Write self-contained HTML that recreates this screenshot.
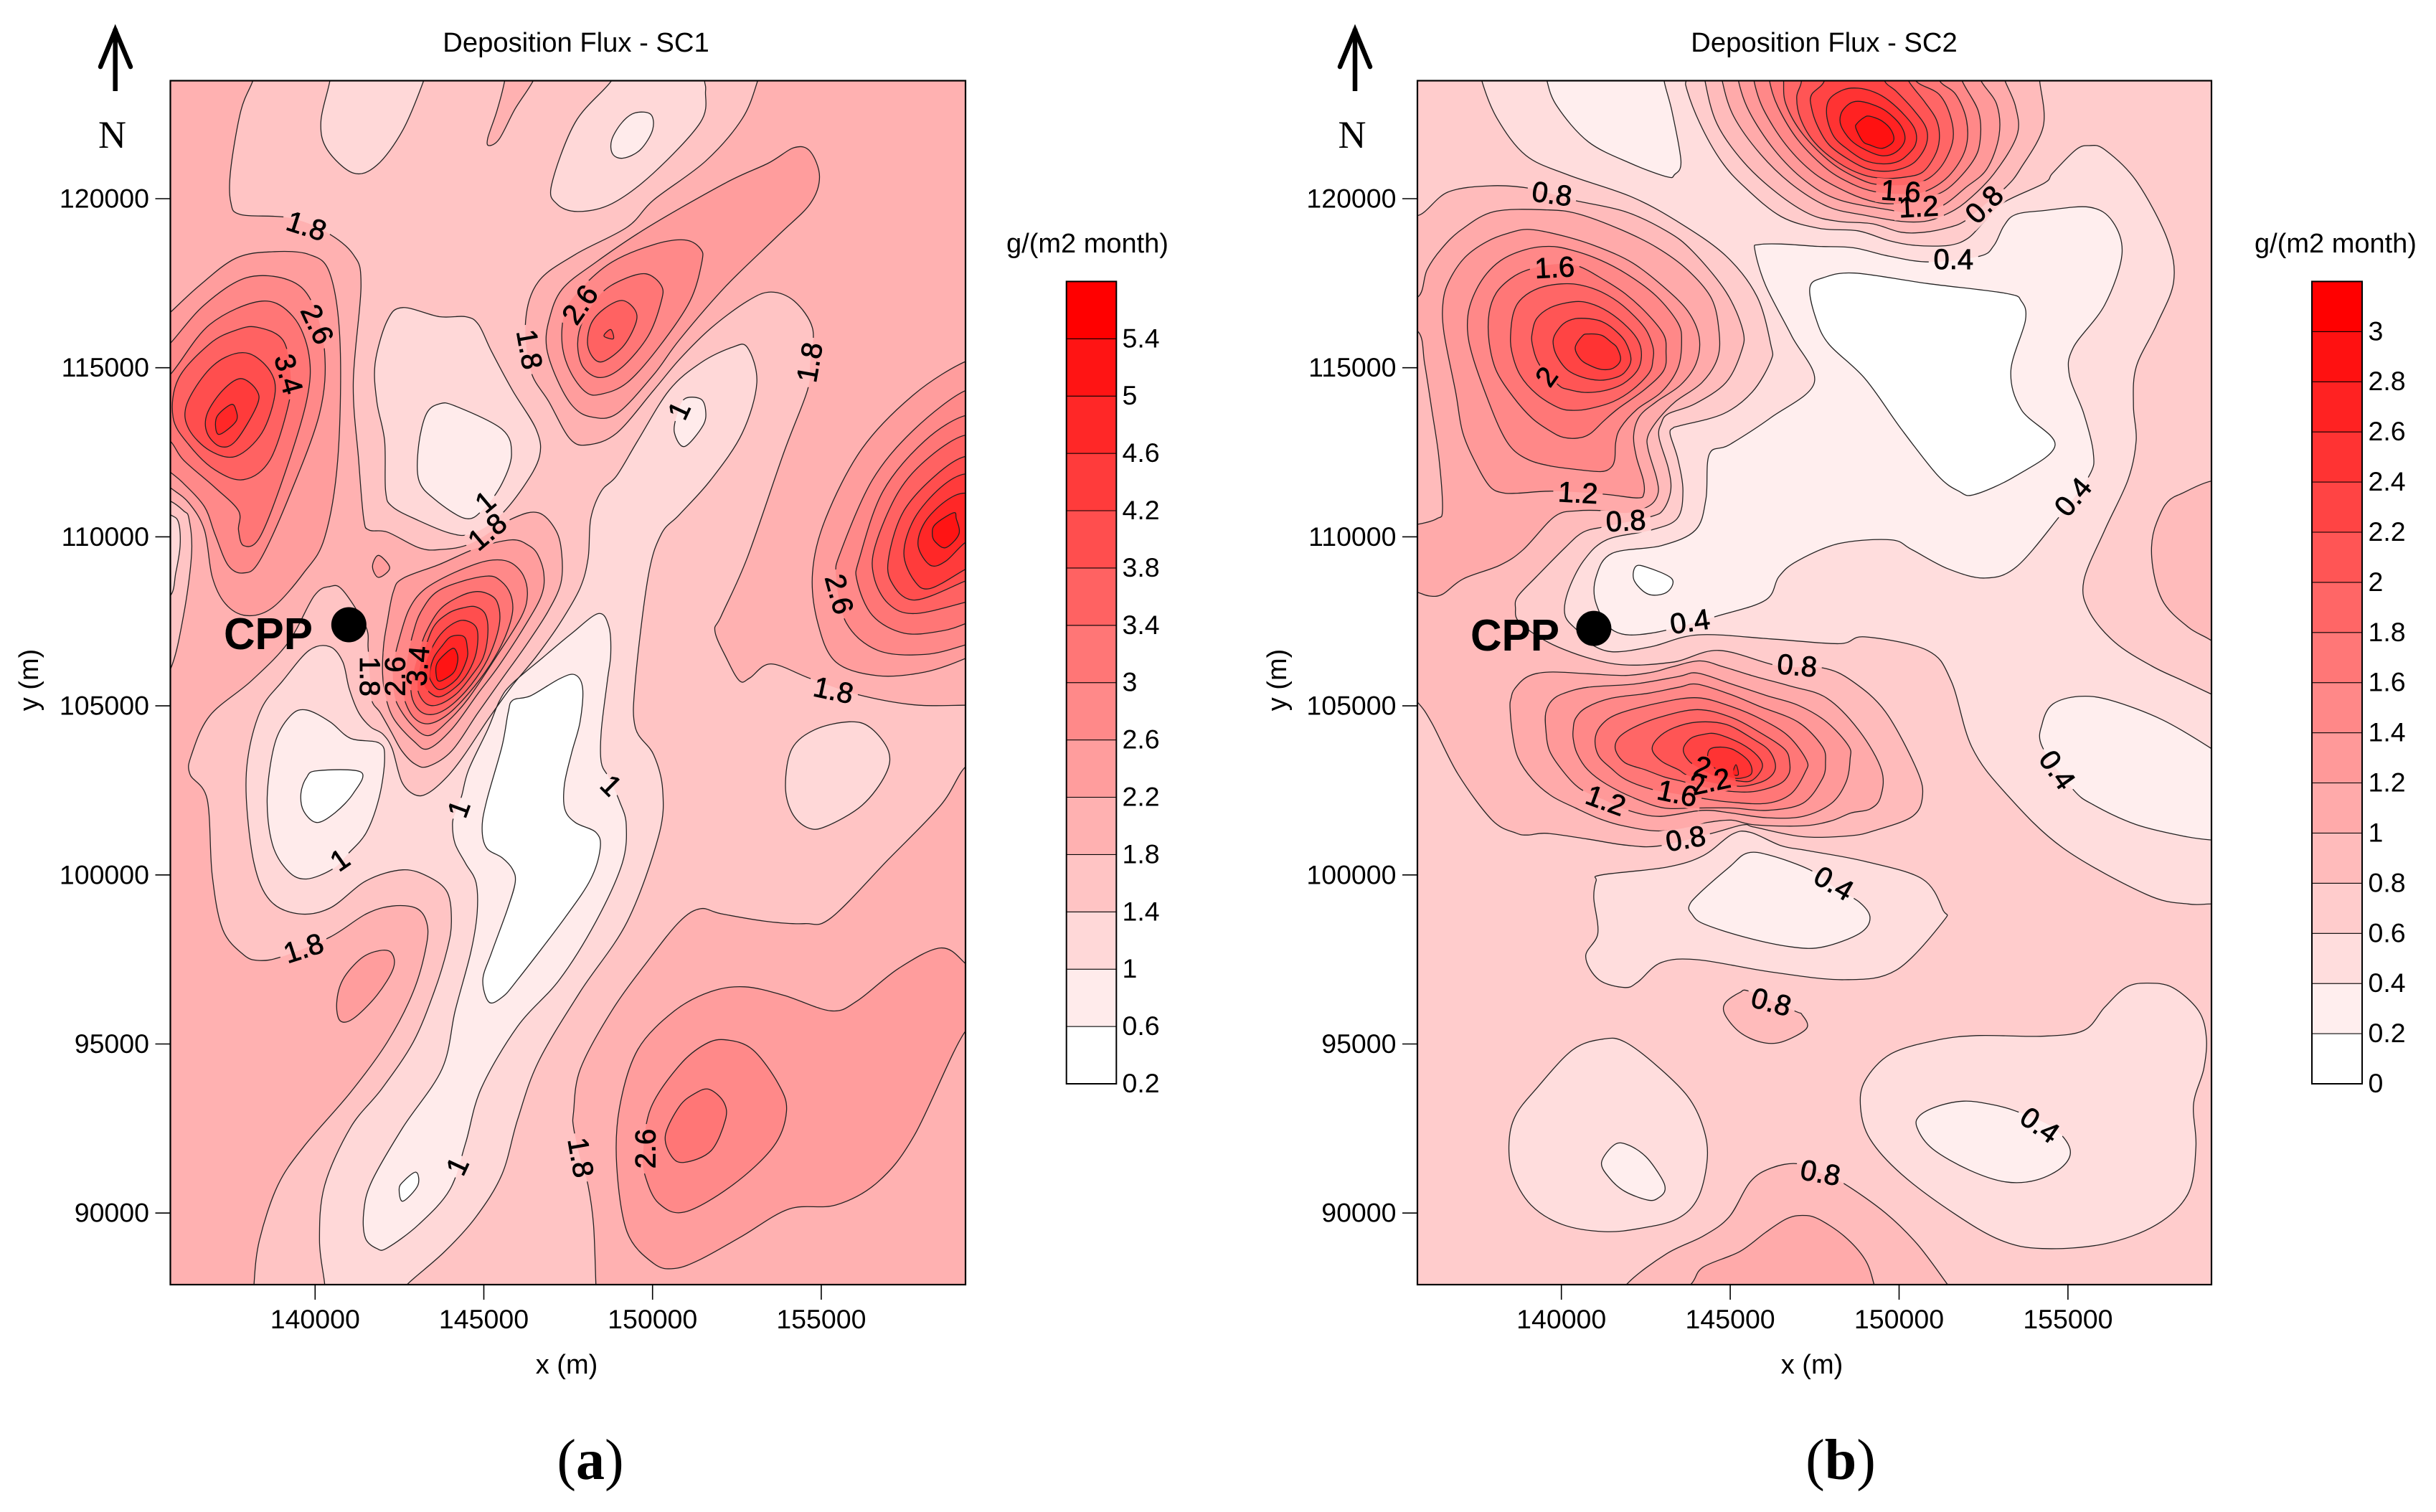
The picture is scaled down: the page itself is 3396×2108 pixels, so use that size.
<!DOCTYPE html>
<html><head><meta charset="utf-8"><title>Deposition Flux</title>
<style>
html,body{margin:0;padding:0;background:#fff}
svg{display:block}
text{font-family:"Liberation Sans",sans-serif;fill:#000}
</style></head><body>
<svg id="chart" xmlns="http://www.w3.org/2000/svg" width="3396" height="2108" viewBox="0 0 3396 2108">
<defs>
<clipPath id="clipA"><rect x="237.5" y="112.5" width="1108.5" height="1678.5"/></clipPath>
<clipPath id="clipB"><rect x="1976" y="112.5" width="1107" height="1678.5"/></clipPath>
</defs>
<g id="panelA"></g>
<g id="panelB"></g>
<text x="803" y="72" font-size="38.2" text-anchor="middle">Deposition Flux - SC1</text>
<text x="2543" y="72" font-size="38.2" text-anchor="middle">Deposition Flux - SC2</text>
<text x="790" y="1915" font-size="38" text-anchor="middle">x (m)</text>
<text x="2526" y="1915" font-size="38" text-anchor="middle">x (m)</text>
<text transform="translate(53,948) rotate(-90)" font-size="38" text-anchor="middle">y (m)</text>
<text transform="translate(1793,948) rotate(-90)" font-size="38" text-anchor="middle">y (m)</text>
<text x="1403" y="352" font-size="38">g/(m2 month)</text>
<text x="3143" y="352" font-size="38">g/(m2 month)</text>
<g fill="none" stroke="#000" stroke-width="6.5" stroke-linecap="round"><path d="M160.7 127V40" stroke-linecap="butt"/><path d="M140 93L160.7 42L182 93"/></g>
<g fill="none" stroke="#000" stroke-width="6.5" stroke-linecap="round"><path d="M1889 127V40" stroke-linecap="butt"/><path d="M1868 93L1889 42L1910 93"/></g>
<text x="156.5" y="206" font-size="54" text-anchor="middle" style="font-family:'Liberation Serif',serif">N</text>
<text x="1885" y="206" font-size="54" text-anchor="middle" style="font-family:'Liberation Serif',serif">N</text>
<text x="312" y="905" font-size="62" font-weight="700" textLength="124" lengthAdjust="spacingAndGlyphs">CPP</text>
<text x="2050" y="907" font-size="62" font-weight="700" textLength="124" lengthAdjust="spacingAndGlyphs">CPP</text>
<text x="823" y="2062" font-size="80" text-anchor="middle" style="font-family:'Liberation Serif',serif">(<tspan font-weight="700">a</tspan>)</text>
<text x="2566" y="2062" font-size="80" text-anchor="middle" style="font-family:'Liberation Serif',serif">(<tspan font-weight="700">b</tspan>)</text>
</svg>
<script>
// Tick values (metres)
const xTicks=[140000,145000,150000,155000];
const yTicks=[90000,95000,100000,105000,110000,115000,120000];
// Colour-bar levels
const levelsA=[0.2,0.6,1,1.4,1.8,2.2,2.6,3,3.4,3.8,4.2,4.6,5,5.4];
const levelsB=[0,0.2,0.4,0.6,0.8,1,1.2,1.4,1.6,1.8,2,2.2,2.4,2.6,2.8,3];
// Source location (km)
const cppA=[141.0,107.4];
const cppB=[140.96,107.29];
// Background band of each map
const baseBandA=1.8;
const baseBandB=0.6;
// Filled contour regions: [lower level of band, [x km, y km, ...]]
const contoursA=[
[1.4,[138.35,124.2,153.3,124.2,153.12,123.5,152.66,122.37,151.57,121.11,150.03,119.96,149.25,119.16,147.71,118.35,146.62,117.55,146.24,116.4,146.39,114.91,146.93,113.99,147.55,112.9,148.09,112.72,148.94,113.07,150.03,114.33,150.8,115.25,151.73,116.17,152.81,116.97,153.51,117.24,154.2,116.97,154.74,116.17,154.67,115.14,154.59,114.33,153.89,112.49,152.81,109.39,152.04,107.67,151.85,107.21,152.19,106.41,152.58,105.74,152.89,105.83,153.51,106.24,154.67,105.81,156.06,105.34,157.76,105.03,159.29,105.02,160,105,160,103.3,159.29,103.21,158.54,102.06,156.99,100.46,155.29,98.73,154.51,98.56,153.43,98.62,152.04,98.85,151.42,99,150.8,98.62,149.87,97.47,148.79,95.98,147.86,94.26,147.66,92.99,147.66,92.53,147.86,91.61,148.09,90.81,148.25,89.66,148.32,87.92,148.35,87.3,138.2,87.3,138.19,87.92,138.35,89.2,138.89,90.81,139.66,91.96,141.05,93.57,142.14,95.06,142.91,96.55,143.3,97.93,143.3,98.62,142.99,99.02,142.29,99.08,141.52,98.85,140.44,98.16,139.04,97.59,138.35,97.47,137.88,97.64,137.26,98.39,136.95,100,136.8,102.24,136.29,102.98,136.34,103.56,136.88,104.71,138.11,105.74,139.2,106.87,139.97,108.25,140.44,108.53,140.82,108.42,141.5,107.35,141.57,106.71,141.62,105.9,141.68,105.16,141.93,104.8,142.25,104.24,142.57,103.67,142.96,103.28,143.35,103.21,144.05,103.67,144.83,104.8,145.54,105.8,146.25,106.79,146.89,107.77,147.28,108.62,147.31,109.47,147.14,110.18,146.62,110.71,145.85,110.54,144.61,109.8,143.68,109.62,143.07,109.68,142.14,110.14,141.6,110.2,141.44,110.54,141.29,112.27,141.13,114.56,141.36,117.43,141.13,118.35,140.28,119.04,139.2,119.44,137.8,119.53,137.5,119.9,137.5,120.88,137.8,122.6,138.16,123.5]],
[1.8,[145.62,123.5,145.39,122.6,145.12,121.8,145.15,121.57,145.46,121.77,145.93,122.66,146.47,123.5,146.7,124.2,145.7,124.2]],
[1,[140.44,123.5,140.17,122.26,140.36,121.45,141.13,120.76,141.83,120.99,142.6,122.03,143.22,123.5,143.4,124.2,140.5,124.2]],
[1,[148.79,123.5,147.71,122.26,147.01,120.42,147.16,119.85,147.78,119.62,148.79,119.85,150.03,120.76,151.42,122.26,151.57,123.18,151.54,123.5,151.5,124.2,149,124.2]],
[0.6,[149.49,122.54,149.95,122.49,150,122.03,149.64,121.45,149.14,121.2,148.82,121.32,148.79,121.74,149.1,122.26]],
[2.2,[154.2,121.51,154.67,121.4,154.95,120.65,154.67,119.85,153.74,118.93,152.19,117.43,150.8,115.83,150.03,114.79,148.94,113.64,148.17,113.55,147.63,113.87,147.16,114.68,146.86,115.6,146.93,116.4,147.32,117.32,148.32,118.12,149.87,119.16,152.19,120.48,153.43,121.05]],
[2.6,[150.95,118.78,151.42,118.52,151.46,118.12,151.11,116.97,150.18,115.6,149.25,114.56,148.48,114.22,148.02,114.28,147.55,114.91,147.32,115.71,147.4,116.63,147.86,117.32,148.79,118.12,150.03,118.64]],
[3,[149.8,117.78,150.26,117.43,150.26,116.97,149.87,115.94,149.1,115.02,148.45,114.71,147.94,115.02,147.78,115.71,147.94,116.4,148.48,117.2,149.1,117.6]],
[3.4,[149.1,116.99,149.49,116.69,149.49,116.28,149.1,115.6,148.45,115.17,148.09,115.6,148.17,116.28,148.56,116.74]],
[3.8,[148.76,116.13,148.84,115.86,148.56,115.94]],
[1.4,[135,111.3,135.7,111.06,136.1,110.77,136.26,110.54,136.34,109.51,136.1,107.67,135.7,106.06,135,105.3]],
[1,[135,111,135.7,110.66,135.95,110.43,136,109.74,135.87,108.93,135.7,108.25,135,108]],
[2.2,[135.7,116.63,136.57,117.43,137.65,118.24,138.73,118.43,139.82,118.35,140.44,117.78,140.74,115.71,140.67,112.27,140.28,109.97,139.66,108.93,138.73,107.9,137.96,107.67,137.34,108.02,136.95,108.82,136.72,110.2,136.26,111,135.7,111.46,135,112,135,116]],
[2.6,[135.7,115.71,136.72,116.86,137.96,117.66,139.2,117.6,139.89,116.97,140.28,115.48,140.13,113.64,139.2,111.12,138.35,109.28,137.88,108.93,137.42,109.16,137.03,110.08,136.72,110.89,136.1,111.58,135.7,111.92,135,112.5,135,115]],
[3,[135.7,114.79,136.88,116.28,138.42,116.97,139.35,116.51,139.82,115.37,139.74,113.99,139.04,111.69,138.35,109.97,137.88,109.74,137.73,110.2,137.73,110.77,137.03,111.46,136.1,112.27,135.7,112.84,135,113.4,135,114.3]],
[3.4,[138.27,116.2,139.04,115.83,139.27,114.79,139.2,113.87,138.66,112.27,137.88,111.69,137.03,111.98,136.26,112.72,135.79,113.53,135.95,114.68,136.88,115.71,137.65,116.11]],
[3.8,[138.04,115.42,138.66,114.91,138.81,114.22,138.42,113.07,137.65,112.38,136.88,112.55,136.26,113.18,136.18,113.87,136.72,114.79,137.34,115.31]],
[4.2,[137.8,114.68,138.27,114.33,138.27,113.87,137.65,112.84,137.19,112.67,136.8,113.07,136.8,113.64,137.26,114.33]],
[4.6,[137.5,113.91,137.65,113.76,137.65,113.41,137.14,113.03,137.08,113.53]],
[2.2,[160,115.2,159.29,115.19,157.76,114.22,156.21,112.61,155.13,110.54,154.74,108.93,154.9,107.44,155.44,106.29,156.68,105.89,158.07,106,159.29,106.41,160,106.8]],
[2.6,[160,114.1,159.29,114.33,157.76,113.18,156.52,111.69,155.6,109.62,155.44,108.82,155.75,107.44,156.68,106.64,158.07,106.52,159.29,106.81,160,107.1]],
[3,[160,113.3,159.29,113.59,158.07,112.84,156.83,111.35,156.14,109.39,156.06,108.7,156.52,107.67,157.45,107.15,158.54,107.21,159.29,107.44,160,107.8]],
[3.4,[160,112.7,159.29,113.01,158.23,112.38,157.3,111.35,156.6,109.74,156.56,108.82,156.99,108.02,157.76,107.73,159.29,108.07,160,108.3]],
[3.8,[160,112.1,159.29,112.38,158.38,111.81,157.45,110.77,157.02,109.51,157.06,108.7,157.76,108.13,159.29,108.7,160,109]],
[4.2,[160,111.6,159.29,111.86,158.54,111.46,157.76,110.54,157.45,109.51,157.76,108.7,158.23,108.47,159.29,109.05,160,109.4]],
[4.6,[160,111,159.29,111.29,158.69,111.06,158.07,110.43,157.87,109.74,158.23,109.16,158.69,109.28,159.29,109.85,160,110.2]],
[5,[158.92,110.71,158.38,110.37,158.29,110.08,158.38,109.85,158.69,109.68,159.08,110.08,159,110.54]],
[1,[140.3,87.3,140.28,87.92,140.13,89.2,140.28,90.81,141.05,92.53,141.98,93.68,142.91,95.06,143.53,96.55,143.92,97.82,144.04,98.62,143.92,99.48,143.37,99.94,142.6,100.15,141.52,99.83,140.44,99.02,139.51,98.85,138.66,99.25,138.19,100.34,137.96,102.3,138.04,103.67,138.42,104.94,139.04,105.74,139.82,106.64,140.44,106.75,140.82,106.3,141.01,105.51,141.29,104.8,141.64,104.38,142,104.17,142.28,103.74,142.57,102.75,142.96,102.37,143.35,102.42,143.91,102.9,144.41,103.53,145.12,104.59,145.83,105.58,146.53,106.43,147.24,107.42,147.85,108.48,148.09,109.37,148.17,110.54,148.48,111.35,148.94,111.81,149.56,112.84,150.49,114.33,151.42,115.14,152.35,115.6,152.81,115.6,153.09,114.56,152.66,113.07,151.73,111.69,150.8,110.66,150.26,110.08,149.87,108.82,149.49,105.74,149.49,104.36,150.03,103.56,150.3,102.52,150.18,101.15,149.25,98.62,147.86,96.55,146.62,94.48,146,92.76,145.54,91.15,144.77,89.89,143.84,88.86,142.76,87.92,142.2,87.3]],
[1,[142.6,116.78,143.68,116.51,144.46,116.51,144.84,116.28,145.23,115.48,145.85,114.33,146.55,113.18,146.65,112.38,146.16,111.46,145.39,110.54,144.61,110.08,143.99,110.11,143.07,110.48,142.29,110.89,142.09,111.35,142.06,112.84,141.83,113.99,141.78,115.14,142.14,116.4]],
[0.6,[143.68,113.93,144.15,113.87,145.54,113.18,145.82,112.44,145.54,111.58,145,110.83,144.46,110.54,143.53,111.12,143.07,111.69,143.07,112.72,143.3,113.64]],
[0.6,[150.95,114.08,151.42,114.08,151.57,113.76,151.5,113.3,150.95,112.67,150.65,113.07,150.72,113.59]],
[0.6,[148.4,107.73,148.71,107.33,148.76,106.52,148.66,105.74,148.48,104.25,148.48,103.33,148.71,102.87,149.02,102.18,149.22,101.49,149.1,100.34,148.32,98.62,147.24,96.9,146,95.52,144.92,93.68,144.46,92.07,143.99,90.69,143.07,89.66,142.14,88.97,141.83,88.95,141.49,89.26,141.44,90.01,141.67,90.92,142.6,92.53,143.76,94.26,144.15,95.98,144.61,97.7,144.8,98.85,144.77,99.77,144.46,100.34,144.15,100.92,144.07,101.49,144.15,101.83,144.34,102.33,144.55,103.11,145.12,104.31,145.47,105.16,145.83,105.65,146.75,106.43,147.6,107.14]],
[0.2,[145.86,105.17,146.39,105.3,147.24,105.8,147.7,105.92,147.93,105.51,147.85,104.52,147.6,103.6,147.39,102.68,147.4,101.95,147.71,101.55,148.32,101.26,148.45,100.8,148.17,99.88,147.4,98.73,146,96.9,145.54,96.38,145.15,96.24,144.97,96.9,145.23,97.7,145.69,98.96,145.93,99.77,145.85,100.17,145.54,100.51,145.08,100.8,144.95,101.38,145.08,102.18,145.54,103.81,145.72,104.8]],
[0.2,[142.99,91.21,143.04,90.81,142.6,90.35,142.49,90.7,142.6,90.92]],
[0.6,[139.74,104.88,140.44,104.53,141.05,104.04,141.9,103.9,142.06,103.44,141.9,102.3,141.52,101.26,140.98,100.63,140.51,100.17,139.74,99.88,139.2,100.11,138.73,100.92,138.58,102.3,138.81,103.9,139.27,104.71]],
[0.2,[140.05,103.08,141.36,103.04,141.13,102.41,140.59,101.84,140.05,101.55,139.66,101.89,139.58,102.41,139.74,102.87]],
[2.2,[141.9,97.76,142.26,97.7,142.32,97.24,141.83,96.44,141.13,95.75,140.74,95.69,140.64,96.21,140.82,96.9,141.36,97.53]],
[2.2,[152.73,96.69,153.89,96.44,155.29,95.98,156.06,96.27,157.3,97.24,158.54,97.84,159.29,97.36,160,96.5,160,95.2,159.29,95.4,157.76,92.3,156.68,90.92,155.44,90.24,154.05,90.12,152.66,89.32,151.42,88.63,150.65,88.36,150.03,88.51,149.25,89.43,148.94,91.38,149.02,93.11,149.56,94.83,150.65,95.98,151.73,96.55]],
[2.6,[152.19,95.12,152.97,94.83,153.74,93.8,153.97,93,153.58,91.96,152.35,90.81,150.95,90.03,150.18,90.29,149.8,91.04,149.72,91.73,149.95,93.11,150.8,94.37,151.57,95]],
[3,[151.68,93.66,152.11,93.28,152.16,92.76,151.73,91.84,150.95,91.5,150.57,91.67,150.38,92.3,150.8,93.16,151.26,93.54]],
[1,[155.83,104.53,156.45,104.36,156.99,103.67,156.91,102.98,156.21,102.06,155.13,101.43,154.59,101.4,154.13,101.84,153.94,102.64,154.13,103.73,154.82,104.3]],
[2.2,[141.88,109.45,142.21,109.08,141.88,108.8,141.7,109.12]],
[2.2,[142.32,108.38,142.6,108.77,143.7,109.19,144.83,109.68,145.83,109.91,146.32,109.75,146.6,109.47,146.78,108.9,146.71,108.27,146.25,107.42,145.47,106.22,144.83,105.37,144.05,104.31,143.35,103.73,142.92,103.96,142.35,104.59,142.1,105.23,142,105.94,142.03,106.79,142.14,107.49]],
[2.6,[145.4,109.32,145.83,109.22,146.18,108.84,146.29,108.27,146.11,107.63,145.4,106.5,144.55,105.23,143.91,104.52,143.35,104.12,142.85,104.45,142.42,105.09,142.32,105.65,142.32,106.22,142.5,107,142.78,107.85,143.2,108.41,143.91,108.84,144.83,109.22]],
[3,[145.12,108.84,145.51,108.69,145.79,108.3,145.85,107.77,145.61,106.99,145.19,106.22,144.55,105.37,143.91,104.73,143.35,104.47,142.92,104.66,142.64,105.23,142.67,105.79,142.74,106.43,142.92,107.21,143.13,107.77,143.56,108.34,144.27,108.66]],
[3.4,[144.76,108.38,145.15,108.3,145.4,108.06,145.47,107.49,145.26,106.71,144.9,106.01,144.34,105.3,143.77,104.84,143.31,104.75,142.99,104.98,142.84,105.44,142.92,106,143.06,106.5,143.27,107.14,143.7,107.85,144.27,108.23]],
[3.8,[144.39,107.9,144.76,107.93,145.05,107.7,145.12,107.14,144.98,106.43,144.62,105.87,144.2,105.37,143.7,105.05,143.31,105.05,143.05,105.44,143.08,106,143.24,106.64,143.52,107.35,143.95,107.74]],
[4.2,[144.41,107.53,144.78,107.31,144.8,106.71,144.62,106.15,144.27,105.65,143.7,105.27,143.31,105.48,143.22,105.79,143.31,106.36,143.63,107,144.02,107.39]],
[4.6,[144.03,107.05,144.41,107.05,144.51,106.71,144.49,106.36,144.2,105.8,143.7,105.48,143.42,105.76,143.4,106.01,143.52,106.43,143.77,106.78]],
[5,[144.05,106.69,144.2,106.57,144.22,106.29,144.09,105.97,143.7,105.73,143.59,105.9,143.63,106.29]]
];
const contoursB=[
[0.4,[137.55,124.2,143.6,124.2,143.68,123.36,144.1,122.23,144.74,121.1,145.45,120.32,146.51,119.47,147.65,119.12,148.78,119.05,149.7,118.76,150.48,118.62,151.47,118.62,152.04,118.83,152.53,119.33,153.1,119.89,154.3,120.46,154.55,120.76,155.24,121.45,155.63,121.57,156.09,121.45,157.02,120.53,157.94,118.81,158.13,117.55,157.63,116.28,157.02,115.02,156.94,113.87,157.02,112.84,156.78,111.69,156.09,110.2,155.47,108.7,155.63,107.79,156.4,106.87,157.48,106.18,158.41,105.74,159.26,105.34,160,105,160,99.1,159.26,99.14,158.56,99.14,157.33,99.42,154.85,100.8,153.16,102.41,152.15,103.79,151.54,105.74,150.84,106.64,148.99,107.04,148.22,106.84,146.21,106.98,144.05,107.1,142.66,106.75,141.5,106.6,140.8,106.87,140.49,107.21,140.11,107.67,140.19,108.36,140.65,109.28,141.34,109.91,142.66,110.2,143.43,110.54,143.6,111.35,143.45,112.3,143.22,113.04,143.31,113.22,143.53,113.29,144.8,113.64,145.65,114.28,146.2,115.2,146.2,115.69,145.79,117.11,144.87,118.31,143.43,119.33,142.04,120.07,140.18,120.71,138.95,121.28,138.1,122.37,137.64,123.5]],
[0.2,[145.73,118.48,145.84,118.64,146.51,118.66,147.58,118.59,148.64,118.55,149.7,118.3,150.9,118.13,152.39,118.3,152.81,118.62,153.1,119.19,153.45,119.53,154.3,119.65,155.63,119.75,156.32,119.33,156.6,118.35,156.09,116.86,155.16,115.6,155.04,114.79,155.47,113.64,155.75,112.49,155.63,111.81,154.7,110.54,153.47,109.11,152.54,108.78,151.46,109.05,150.38,109.62,149.76,109.91,148.22,109.8,146.98,109.28,146.44,108.82,146.05,108.13,144.66,107.67,142.66,107.15,141.57,107.21,141.03,108.02,141.03,108.82,141.5,109.51,142.96,109.74,143.97,110.2,144.28,111.12,144.38,112.44,144.97,112.72,146.21,113.53,147.49,114.56,146.82,115.94,146.05,117.43]],
[0,[147.36,117.38,147.75,117.66,148.68,117.8,150.84,117.49,153.16,117.2,153.62,116.97,153.74,116.4,153.31,114.91,153.62,113.76,154.62,112.72,153.47,111.81,152.23,111.25,151.77,111.35,151.15,111.81,150.07,113.18,148.99,114.68,147.91,115.71,147.52,116.51]],
[0,[142.19,109.11,142.5,109.11,143.27,108.76,143.12,108.36,142.58,108.3,142.16,108.7]],
[0.2,[139.57,123.5,139.88,122.72,140.8,121.68,142.04,121.05,143.12,120.65,143.35,120.71,143.54,121.11,143.27,122.6,143.04,123.5,143,124.2,139.5,124.2]],
[0.8,[135,119.9,135.74,119.5,136.63,120.19,137.87,120.38,139.1,120.3,140.34,119.96,141.88,119.62,143.12,119.04,143.88,118.45,144.87,117.25,145.37,116.12,145.33,115.48,144.87,114.56,143.95,113.93,143.17,113.64,142.96,113.36,142.89,112.94,143.17,112.02,143.24,111.38,143.03,110.82,142.66,110.6,141.34,110.31,140.65,110.14,140.11,109.68,139.26,108.82,138.72,108.25,138.64,107.9,138.79,107.44,139.88,106.75,141.57,106.24,143.27,106.29,144.66,106.64,146.44,106.18,147.75,106.12,148.6,105.74,149.6,104.82,150.53,103.1,150.69,102.3,150.38,101.72,149.3,101.32,148.57,101.16,147.15,101.13,145.73,101.41,145.38,101.48,144.46,101.23,142.9,100.86,141.91,100.88,140.78,101.06,139.57,101.23,139.01,101.18,138.65,101.24,137.95,101.62,136.94,102.98,136.17,104.48,135.74,105.11,135,105.8]],
[1,[135.77,117.11,136.02,117.89,136.45,118.52,137.05,119.09,138.02,119.62,139.57,119.67,140.5,119.55,141.75,119.09,142.82,118.56,143.74,117.89,144.45,117.04,144.67,116.05,144.62,115.27,144.16,114.56,143.38,114,142.89,113.5,142.57,113,142.57,112.58,142.82,111.73,142.86,111.27,142.61,110.92,141.97,110.71,141.34,110.77,140.49,110.77,139.8,110.6,138.87,109.62,138.18,109.16,137.1,108.76,136.48,108.3,136.09,108.25,135.74,108.36,135,108.6,135,110.3,135.74,110.37,136.32,110.54,136.48,110.82,136.37,112.37,136.16,113.78,135.95,115.13,135.77,116.05,135,116.3,135,116.9]],
[1.2,[136.5,116.97,136.69,117.6,137.15,118.27,137.79,118.73,138.43,118.98,139.07,119.09,140.13,118.88,141.12,118.56,142.11,118.1,143.03,117.39,143.74,116.68,144.08,115.91,143.99,115.13,143.53,114.49,142.82,114,142.32,113.57,142.14,113.01,142.22,112.37,142.43,111.66,142.44,111.27,142.25,111.15,141.26,111.26,139.77,111.35,138.71,111.29,138.27,111.3,137.9,111.47,137.51,112.09,137.08,113.08,136.87,114.28,136.52,116.05]],
[1.4,[139.63,118.59,138.92,118.49,138.2,118.17,137.65,117.6,137.29,116.83,137.22,116.12,137.37,115.34,137.79,114.14,138.2,113.15,138.57,112.58,139.07,112.26,139.7,112.09,140.55,111.98,141.19,111.93,141.47,112.05,141.58,112.3,141.61,112.8,141.75,113.22,142.25,113.78,142.96,114.28,143.45,114.99,143.56,115.77,143.45,116.33,142.82,117.11,141.97,117.75,141.12,118.2,140.27,118.49]],
[1.6,[138.99,117.89,138.5,117.64,138.07,117.21,137.86,116.61,137.86,115.77,138.07,114.92,138.57,114.14,139.14,113.5,139.7,113.11,140.06,112.94,140.48,112.92,140.84,113.04,141.26,113.43,141.68,113.79,142.46,114.35,143.03,114.92,143.1,115.48,143.03,115.98,142.53,116.61,141.9,117.18,141.26,117.6,140.48,118.01,139.77,118.06]],
[1.8,[138.85,117.07,139.35,117.36,139.99,117.48,140.55,117.45,141.19,117.24,141.83,116.83,142.46,116.19,142.71,115.62,142.71,115.23,142.6,114.85,142.11,114.35,141.54,114,140.83,113.79,140.34,113.74,139.91,113.82,139.28,114.21,138.78,114.78,138.53,115.48,138.5,116.05,138.6,116.68]],
[2,[139.28,116.47,139.7,116.79,140.34,116.95,140.83,116.91,141.4,116.65,141.97,116.19,142.29,115.77,142.37,115.34,142.25,114.92,141.83,114.53,141.26,114.32,140.69,114.27,140.2,114.36,139.91,114.49,139.35,115.09,139.14,115.69,139.14,116.05]],
[2.2,[140.06,116.3,140.41,116.45,140.83,116.45,141.19,116.37,141.54,116.15,141.9,115.76,142.06,115.23,141.86,114.85,141.54,114.69,141.12,114.63,140.62,114.72,140.2,114.92,139.91,115.27,139.77,115.62,139.79,115.94]],
[2.4,[140.62,115.94,140.8,116,141.19,115.96,141.47,115.76,141.65,115.59,141.75,115.23,141.54,114.99,141.19,114.95,140.8,115.09,140.55,115.27,140.41,115.6]],
[0.8,[144.2,124.2,144.25,123.5,144.6,122.23,145.38,121.1,146.37,120.18,147.36,119.54,148.21,119.33,149.2,119.26,150.05,119.01,150.76,119.01,151.47,119.15,151.93,119.33,152.53,119.82,153.17,120.35,153.59,120.88,154.27,122.14,154.16,123.5,154.1,124.2]],
[1,[144.7,124.2,144.76,123.5,145.1,122.44,145.9,121.31,146.87,120.39,147.93,119.75,148.99,119.51,150.05,119.33,150.76,119.33,151.33,119.51,151.96,119.89,152.81,120.74,153.49,121.87,153.45,122.72,153.13,123.5,152.9,124.2]],
[1.2,[145.2,124.2,145.24,123.5,145.56,122.58,146.3,121.45,147.22,120.53,148.21,119.97,149.81,119.65,150.58,119.54,151.33,119.82,151.96,120.32,152.6,120.88,152.96,121.87,152.89,122.79,152.42,123.5,152.2,124.2]],
[1.4,[145.65,124.2,145.7,123.5,145.98,122.65,146.65,121.59,147.5,120.74,148.49,120.18,149.34,119.89,150.05,119.86,150.76,120,151.47,120.32,152.18,121.1,152.4,121.73,152.35,122.58,151.86,123.5,151.7,124.2]],
[1.6,[146.1,124.2,146.16,123.5,146.41,122.72,147.01,121.73,147.86,120.88,148.64,120.42,149.27,120.21,150.05,120.14,150.76,120.21,151.47,120.67,151.96,121.45,152,122.3,151.68,123.08,151.19,123.5,151,124.2]],
[1.8,[146.6,124.2,146.58,123.5,146.65,122.79,147.15,121.91,148,121.06,148.85,120.57,149.49,120.41,150.55,120.46,151.19,120.88,151.58,121.66,151.54,122.37,151.19,123.08,150.48,123.5,150.3,124.2]],
[2,[147,124.2,147.11,123.5,146.97,123.01,147.08,122.37,147.5,121.66,148.21,121.06,148.92,120.71,149.56,120.6,150.19,120.64,150.69,120.78,151.04,121.24,151.19,121.73,151.12,122.3,150.76,122.86,150.27,123.5,150,124.2]],
[2.2,[147.7,124.2,147.79,123.5,147.41,123.08,147.4,122.72,147.58,122.16,147.93,121.59,148.49,121.17,149.06,120.88,149.56,120.81,150.05,120.88,150.48,121.1,150.8,121.59,150.8,122.09,150.41,122.65,149.91,123.18,149.56,123.5,149.4,124.2]],
[2.4,[147.93,122.93,148.35,123.22,148.78,123.27,149.27,123.15,149.7,122.9,150.19,122.44,150.48,122.02,150.48,121.59,150.19,121.24,149.91,121.08,149.49,121.03,148.99,121.13,148.49,121.45,148.07,121.84,147.86,122.44]],
[2.6,[148.5,122.79,148.78,122.88,149.2,122.79,149.63,122.58,150.05,122.16,150.17,121.73,149.91,121.38,149.49,121.27,148.99,121.45,148.57,121.73,148.28,122.16,148.28,122.51]],
[2.8,[148.96,122.4,149.13,122.44,149.49,122.3,149.77,122.02,149.83,121.7,149.5,121.49,149.13,121.59,148.92,121.7,148.72,122.09,148.76,122.23]],
[0.8,[160,111.3,158.25,111.23,157.63,110.43,157.48,109.39,157.79,108.13,158.56,107.33,159.26,106.92,160,106.3]],
[1,[138.62,105.51,139.01,105.87,139.65,106,140.78,105.95,141.91,105.9,142.76,106.01,143.26,106.15,144.1,106.33,144.81,106.15,145.73,105.87,146.8,105.58,147.86,105.23,148.83,104.25,149.48,103.1,149.45,102.3,149.14,101.95,148.57,101.83,147.99,101.6,147.15,101.45,145.73,101.48,145.03,101.62,144.32,101.55,143.96,101.45,142.9,101.3,141.84,101.45,141.13,101.66,140.42,101.98,139.72,102.33,139.15,102.82,138.72,103.46,138.55,104.17,138.48,104.95,138.51,105.23]],
[1.2,[139.54,104.8,139.72,105.16,140.07,105.37,140.78,105.55,142.19,105.65,143.47,105.87,144.03,105.97,145.03,105.65,146.09,105.3,147.01,105.02,147.86,104.52,148.5,103.82,148.55,103.43,148.43,102.75,148,102.12,147.15,101.73,146.09,101.69,145.03,101.83,144.18,101.91,142.9,101.73,141.98,101.91,141.27,102.22,140.57,102.54,140.07,103.04,139.65,103.67,139.54,104.31]],
[1.4,[140.35,104.31,140.42,104.63,140.74,104.95,141.49,105.23,142.55,105.37,143.47,105.55,144.03,105.64,145.03,105.33,145.88,104.98,147.01,104.52,147.72,103.81,147.82,103.32,147.72,102.83,147.15,102.12,146.09,101.91,145.03,101.98,143.96,101.98,143.04,101.98,142.19,102.26,141.34,102.68,140.78,103.11,140.46,103.6,140.35,104.03]],
[1.6,[141,104.03,141.2,104.45,141.7,104.77,142.9,105.09,144.03,105.24,145.03,104.98,145.95,104.59,146.73,104.1,147.26,103.39,147.22,103.04,146.8,102.4,146.09,102.12,145.03,102.15,144.14,102.27,143.4,102.4,142.65,102.54,141.91,102.82,141.49,103.14,141.1,103.53]],
[1.8,[141.6,103.71,141.7,104.06,142.12,104.35,142.9,104.66,144.03,104.89,145.03,104.66,145.95,104.17,146.62,103.71,146.76,103.32,146.73,102.97,146.44,102.68,145.73,102.47,145.03,102.47,144.18,102.61,143.61,102.76,143.04,102.9,142.48,103.11,141.88,103.32]],
[2,[142.69,103.71,142.87,104.06,143.33,104.35,144.03,104.52,144.88,104.45,145.66,104.03,146.16,103.67,146.34,103.18,146.09,102.83,145.52,102.64,145.03,102.64,144.32,102.76,143.72,102.95,143.47,103.11,142.97,103.36]],
[2.2,[143.61,103.71,143.82,104.03,144.18,104.15,144.6,104.17,145.31,103.89,145.8,103.53,145.95,103.18,145.63,102.79,145.17,102.79,144.6,102.9,144.18,103.11,143.79,103.36]],
[2.4,[144.39,103.71,144.74,103.78,145.13,103.69,145.55,103.36,145.63,103,145.31,102.86,144.96,102.9,144.6,103.11,144.35,103.39]],
[2.6,[145.17,103.26,145.24,102.97,145.08,102.99]],
[0.4,[141.03,99.83,140.96,99.31,141.08,98.27,140.72,97.59,141.11,96.9,141.88,96.67,142.27,96.84,142.96,97.41,144.05,97.49,146.21,97.13,148.37,96.9,149.91,97.18,151.3,98.62,151.3,98.96,150.69,99.88,148.99,100.4,147.29,100.72,146.52,100.86,145.59,101.26,145.05,101.2,144.2,100.57,143.12,100.23,141.19,100]],
[0.2,[145.51,100.65,146.21,100.57,147.36,100.15,148.06,99.65,148.83,99.19,149.14,98.73,148.83,98.27,147.75,97.87,146.82,97.87,145.43,98.16,144.2,98.56,143.86,98.85,143.78,99.08,144.05,99.42,144.97,100.23]],
[0.2,[155.32,105.28,156.25,105.17,157.79,104.59,159.26,103.73,160,103.2,160,101,159.26,101.03,158.41,101.15,157.02,101.49,155.78,102.06,155.16,102.52,154.24,103.79,154.24,104.48,154.55,105.05]],
[0.8,[145.59,96.55,145.28,96.52,144.85,96.21,144.85,95.86,145.28,95.35,145.9,95.06,146.52,95.06,147.26,95.46,147.13,95.86,146.9,95.98]],
[0.4,[141.27,95.15,141.88,95.06,142.81,94.37,143.74,93.45,144.2,92.53,144.32,91.61,144.05,90.46,143.43,89.83,142.35,89.55,141.27,89.45,140.03,89.66,139.1,90.24,138.56,91.15,138.45,92.07,138.64,92.88,139.26,93.68,140.34,94.83]],
[0.2,[141.57,92.02,141.96,92.02,142.5,91.67,142.96,91.04,143.07,90.69,142.89,90.46,142.58,90.38,141.88,90.64,141.42,91.04,141.19,91.5]],
[0.4,[157.33,96.8,158.1,96.67,158.87,95.98,159.1,95.17,159.02,94.26,158.72,93.22,158.79,91.96,158.56,90.58,157.63,89.66,156.09,89.09,154.24,88.95,153,89.2,151.61,90,150.07,91.15,149.14,92.19,148.86,93.11,148.99,93.91,149.76,94.71,151.15,95.12,152.38,95.25,154.24,95.23,155.47,95.4,156.09,96.09,156.71,96.67]],
[0.2,[151.92,93.31,152.69,93.22,153.47,93.01,154.55,92.53,155.06,91.9,154.85,91.38,154.08,90.98,153.16,90.92,152.08,91.27,150.99,91.9,150.53,92.53,150.61,92.88,151.15,93.16]],
[0.8,[141.6,87.2,141.96,87.92,143.12,88.8,144.2,89.32,144.97,89.89,145.59,90.92,146.21,91.33,146.98,91.46,147.67,91.18,148.37,90.87,149.6,90,150.53,89.09,151.41,87.92,151.9,87.2]],
[1,[143.2,87.2,143.86,87.92,144.2,88.4,145.28,88.86,146.05,89.43,146.67,89.83,147.13,89.93,147.6,89.83,148.37,89.32,148.99,88.63,149.25,87.92,149.4,87.2]]
];
// Contour labels: [text, x km, y km, rotation]
const labelsA=[
["1.8",139.74,119.18,18],["2.6",140.05,116.28,65],["3.4",139.2,114.81,75],["2.6",147.86,116.86,-55],["1.8",146.34,115.54,80],["1.8",154.67,115.16,-80],["1",150.8,113.73,-65],["1",145.05,111.02,-40],["1.8",145.11,110.14,-40],["2.6",155.52,108.3,75],["1.8",155.36,105.45,12],["1.8",141.61,105.87,90],["2.6",142.39,105.87,-90],["3.4",143.06,106.18,-85],["1",144.27,101.95,-70],["1",148.76,102.64,45],["1",140.74,100.43,-35],["1.8",139.66,97.82,-18],["1",144.23,91.38,-65],["1.8",147.86,91.64,80],["2.6",149.8,91.9,-90]
];
const labelsB=[
["0.8",139.72,120.13,8],["1.6",139.8,117.95,-3],["2",139.57,114.73,-55],["1.2",140.49,111.29,3],["0.8",141.91,110.46,-3],["0.4",143.81,107.48,-8],["0.8",146.98,106.18,5],["1.6",150.05,120.21,4],["1.2",150.58,119.75,-3],["0.8",152.53,119.82,-45],["0.4",151.61,118.2,0],["0.4",155.16,111.17,-50],["2.2",144.42,102.75,-12],["2",144.18,103.18,15],["1.6",143.43,102.4,12],["1.2",141.31,102.19,20],["0.8",143.68,101.06,-10],["0.4",148.06,99.74,30],["0.4",154.67,103.1,55],["0.8",146.21,96.23,15],["0.4",154.16,92.59,35],["0.8",147.67,91.18,10]
];

const NS='http://www.w3.org/2000/svg';
function mk(parent,tag,attrs){
  const el=document.createElementNS(NS,tag);
  for(const k in attrs){el.setAttribute(k,attrs[k]);}
  parent.appendChild(el);
  return el;
}
function yScale(km){return 277+(120-km)*47.14;}
function smoothPath(p,fx,fy){
  const n=p.length/2;
  const X=i=>fx(p[2*((i+n)%n)]);
  const Y=i=>fy(p[2*((i+n)%n)+1]);
  let d='M'+X(0).toFixed(1)+' '+Y(0).toFixed(1);
  for(let i=0;i<n;i++){
    const c1x=X(i)+(X(i+1)-X(i-1))/6,c1y=Y(i)+(Y(i+1)-Y(i-1))/6;
    const c2x=X(i+1)-(X(i+2)-X(i))/6,c2y=Y(i+1)-(Y(i+2)-Y(i))/6;
    d+='C'+c1x.toFixed(1)+' '+c1y.toFixed(1)+' '+c2x.toFixed(1)+' '+c2y.toFixed(1)+' '+X(i+1).toFixed(1)+' '+Y(i+1).toFixed(1);
  }
  return d+'Z';
}
function bandColor(levels,v){
  let idx=0;
  levels.forEach((l,i)=>{if(Math.abs(l-v)<1e-6)idx=i;});
  const g=Math.round(255*(1-idx/(levels.length-1)));
  return 'rgb(255,'+g+','+g+')';
}
function drawPanel(cfg){
  const root=document.getElementById(cfg.id);
  const fx=cfg.xScale;
  const f=cfg.frame;
  const maps=mk(root,'g',{'clip-path':'url(#'+cfg.clip+')'});
  
  
  const bg=mk(maps,'rect',{x:f.l,y:f.t,width:f.r-f.l,height:f.b-f.t,fill:bandColor(cfg.levels,cfg.base)});
  
  
  const paths=cfg.contours.map(c=>smoothPath(c[1],fx,yScale));
  cfg.contours.forEach((c,i)=>{
    const reg=mk(maps,'path',{d:paths[i],fill:bandColor(cfg.levels,c[0])});
    
    
  });
  const mask=mk(root,'mask',{id:cfg.id+'Mask',maskUnits:'userSpaceOnUse',x:0,y:0,width:3396,height:2108});
  mk(mask,'rect',{x:0,y:0,width:3396,height:2108,fill:'#fff'});
  cfg.labels.forEach(l=>{
    const w=l[0].length*19+12;
    mk(mask,'rect',{x:-w/2,y:-17,width:w,height:34,fill:'#000',transform:'translate('+fx(l[1]).toFixed(1)+','+yScale(l[2]).toFixed(1)+') rotate('+l[3]+')'});
  });
  const lines=mk(maps,'g',{mask:'url(#'+cfg.id+'Mask)',fill:'none',stroke:'#222','stroke-width':1.3});
  
  
  paths.forEach(d=>{
    const ln=mk(lines,'path',{d:d});
    
    
  });
  cfg.labels.forEach(l=>{
    const t=mk(root,'text',{'font-size':40,stroke:'#000','stroke-width':0.8,'text-anchor':'middle','dominant-baseline':'central',transform:'translate('+fx(l[1]).toFixed(1)+','+yScale(l[2]).toFixed(1)+') rotate('+l[3]+')'});
    
    
    t.textContent=l[0];
  });
  const fr=mk(root,'rect',{x:f.l,y:f.t,width:f.r-f.l,height:f.b-f.t,fill:'none',stroke:'#000','stroke-width':2.2});
  
  
  xTicks.forEach(v=>{
    const x=fx(v/1000);
    const tk=mk(root,'line',{x1:x,x2:x,y1:f.b,y2:f.b+21,stroke:'#000','stroke-width':1.6});
    
    
    const t=mk(root,'text',{x:x,y:1852,'font-size':37.5,'text-anchor':'middle'});
    
    
    t.textContent=v;
  });
  yTicks.forEach(v=>{
    const y=yScale(v/1000);
    const tk=mk(root,'line',{x1:f.l-21,x2:f.l,y1:y,y2:y,stroke:'#000','stroke-width':1.6});
    
    
    const t=mk(root,'text',{x:f.l-29.5,y:y+12.5,'font-size':37.5,'text-anchor':'end'});
    
    
    t.textContent=v;
  });
  const dot=mk(root,'circle',{cx:fx(cfg.cpp[0]),cy:yScale(cfg.cpp[1]),r:24.5,fill:'#000'});
  
  
  // colour bar
  const n=cfg.levels.length,top=392.4,bot=1511,h=(bot-top)/n;
  const bar=mk(root,'g',{});
  
  
  cfg.levels.forEach((lv,i)=>{
    const y=bot-(i+1)*h;
    const r=mk(bar,'rect',{x:cfg.barL,y:y,width:cfg.barR-cfg.barL,height:h,fill:bandColor(cfg.levels,lv),stroke:'#000','stroke-width':1});
    
    
    const t=mk(bar,'text',{x:cfg.barText,y:y+h+12,'font-size':37.5,'text-anchor':'start'});
    
    
    t.textContent=lv;
  });
  const box=mk(bar,'rect',{x:cfg.barL,y:top,width:cfg.barR-cfg.barL,height:bot-top,fill:'none',stroke:'#000','stroke-width':2});
  
  
}
drawPanel({id:'panelA',clip:'clipA',xScale:km=>439.3+(km-140)*47.04,frame:{l:237.5,r:1346,t:112.5,b:1791},levels:levelsA,base:baseBandA,contours:contoursA,labels:labelsA,cpp:cppA,barL:1486.7,barR:1556.3,barText:1564.5});
drawPanel({id:'panelB',clip:'clipB',xScale:km=>2176.7+(km-140)*47.08,frame:{l:1976,r:3083,t:112.5,b:1791},levels:levelsB,base:baseBandB,contours:contoursB,labels:labelsB,cpp:cppB,barL:3223,barR:3293,barText:3301.5});
</script>
</body></html>
